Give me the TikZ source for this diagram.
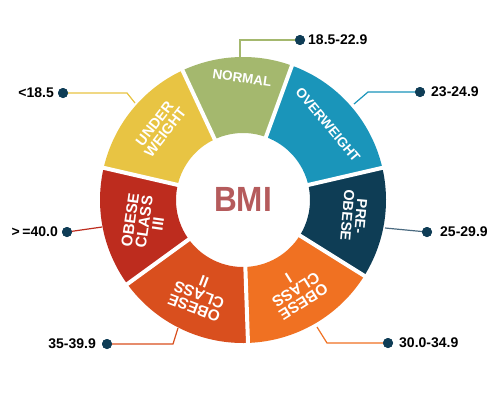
\documentclass[tikz,border=0pt]{standalone}
\usepackage{fontspec}
\setmainfont{Liberation Sans}
\begin{document}
\begin{tikzpicture}[x=1pt,y=1pt]
\definecolor{cNormal}{HTML}{A4B86E}
\definecolor{cOver}{HTML}{1A95BA}
\definecolor{cPre}{HTML}{0E3D55}
\definecolor{cObI}{HTML}{F07122}
\definecolor{cObII}{HTML}{D94F1E}
\definecolor{cObIII}{HTML}{BD2C1E}
\definecolor{cUnder}{HTML}{E8C443}
\definecolor{cBMI}{HTML}{B55B5C}
\definecolor{cDot}{HTML}{0F3D56}
\definecolor{cPreLine}{HTML}{4A6A80}
\tikzset{
  seglabel/.style={text=white, font=\bfseries\fontsize{13.5}{13.5}\selectfont, align=center, inner sep=0pt},
  obeselabel/.style={seglabel, font=\bfseries\fontsize{15.5}{14}\selectfont},
  enddot/.style={circle, fill=cDot, minimum size=10pt, inner sep=0pt},
  vallabel/.style={font=\bfseries\fontsize{14}{14}\selectfont, inner sep=0pt, text=black},
  callout/.style={line width=1.2pt},
}
\useasboundingbox (0,0) rectangle (500,400);
\fill[white] (0,0) rectangle (500,400);
\begin{scope}[shift={(243,200)}]
  \def\Ro{143}\def\Ri{67}
  \fill[cNormal] (70:\Ro) arc[start angle=70,end angle=115,radius=\Ro] -- (115:\Ri) arc[start angle=115,end angle=70,radius=\Ri] -- cycle;
  \fill[cUnder] (115:\Ro) arc[start angle=115,end angle=167,radius=\Ro] -- (167:\Ri) arc[start angle=167,end angle=115,radius=\Ri] -- cycle;
  \fill[cObIII] (167:\Ro) arc[start angle=167,end angle=216,radius=\Ro] -- (216:\Ri) arc[start angle=216,end angle=167,radius=\Ri] -- cycle;
  \fill[cObII] (216:\Ro) arc[start angle=216,end angle=272,radius=\Ro] -- (272:\Ri) arc[start angle=272,end angle=216,radius=\Ri] -- cycle;
  \fill[cObI] (272:\Ro) arc[start angle=272,end angle=328,radius=\Ro] -- (328:\Ri) arc[start angle=328,end angle=272,radius=\Ri] -- cycle;
  \fill[cPre] (328:\Ro) arc[start angle=328,end angle=373,radius=\Ro] -- (373:\Ri) arc[start angle=373,end angle=328,radius=\Ri] -- cycle;
  \fill[cOver] (13:\Ro) arc[start angle=13,end angle=70,radius=\Ro] -- (70:\Ri) arc[start angle=70,end angle=13,radius=\Ri] -- cycle;
  \foreach \a in {70,115,167,216,272,328,13}
    \draw[white, line width=4pt] (\a:60) -- (\a:150);
\end{scope}

% segment labels
\node[seglabel, rotate=-8] (tNormal) at (242,322) {NORMAL};
\node[seglabel, rotate=-50] (tOver) at (328,275) {OVERWEIGHT};
\node[seglabel, font=\bfseries\fontsize{14.5}{13.5}\selectfont, rotate=-95] (tPre) at (354,184) {PRE-\\OBESE};
\node[obeselabel, rotate=212] (tObI) at (296,110) {OBESE\\CLASS\\I};
\node[obeselabel, rotate=159] (tObII) at (199,105) {OBESE\\CLASS\\II};
\node[obeselabel, rotate=82] (tObIII) at (144,178) {OBESE\\CLASS\\III};
\node[seglabel, font=\bfseries\fontsize{14.5}{13.5}\selectfont, rotate=52] (tUnder) at (160,272) {UNDER\\WEIGHT};
\node[text=cBMI, font=\bfseries\fontsize{35}{35}\selectfont, xscale=0.9, inner sep=0pt] (bmi) at (243,201) {BMI};

% callouts
\coordinate (aNormal) at (240,343);
\coordinate (bNormal) at (240,360);
\node[enddot] (dNormal) at (300,360) {};
\node[vallabel, anchor=west] (lNormal) at (308,360) {18.5-22.9};
\draw[callout, cNormal] (aNormal) -- (bNormal) -- (dNormal.center);
\node[enddot] at (dNormal) {};

\coordinate (aOver) at (354,296);
\coordinate (bOver) at (368,308);
\node[enddot] (dOver) at (420,308) {};
\node[vallabel, anchor=west] (lOver) at (431,308) {23-24.9};
\draw[callout, cOver] (aOver) -- (bOver) -- (dOver.center);
\node[enddot] at (dOver) {};

\coordinate (aPre) at (385,172);
\node[enddot] (dPre) at (427,168) {};
\node[vallabel, anchor=west] (lPre) at (440,168) {25-29.9};
\draw[callout, cPreLine] (aPre) -- (dPre.center);
\node[enddot] at (dPre) {};

\coordinate (aObI) at (317,73);
\coordinate (bObI) at (327,57);
\node[enddot] (dObI) at (388,57) {};
\node[vallabel, anchor=west] (lObI) at (399,57) {30.0-34.9};
\draw[callout, cObI] (aObI) -- (bObI) -- (dObI.center);
\node[enddot] at (dObI) {};

\coordinate (aObII) at (178,72);
\coordinate (bObII) at (173,56);
\node[enddot] (dObII) at (107,56) {};
\node[vallabel, anchor=east] (lObII) at (96,56) {35-39.9};
\draw[callout, cObII] (aObII) -- (bObII) -- (dObII.center);
\node[enddot] at (dObII) {};

\coordinate (aObIII) at (102,173);
\node[enddot] (dObIII) at (67,168) {};
\node[vallabel, anchor=east] (lObIII) at (58,168) {>\kern2.5pt=40.0};
\draw[callout, cObIII] (aObIII) -- (dObIII.center);
\node[enddot] at (dObIII) {};

\coordinate (aUnder) at (135,297);
\coordinate (bUnder) at (127,307);
\node[enddot] (dUnder) at (63,307) {};
\node[vallabel, anchor=east] (lUnder) at (54,307) {<18.5};
\draw[callout, cUnder] (aUnder) -- (bUnder) -- (dUnder.center);
\node[enddot] at (dUnder) {};
\end{tikzpicture}
\end{document}
